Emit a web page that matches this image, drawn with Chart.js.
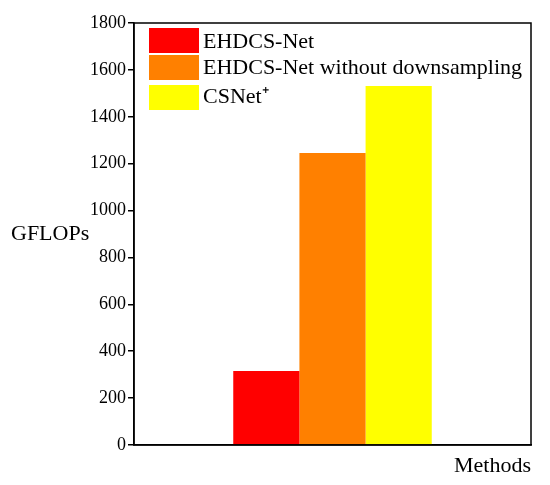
<!DOCTYPE html>
<html>
<head>
<meta charset="utf-8">
<script src="https://cdn.jsdelivr.net/npm/chart.js@4/dist/chart.umd.min.js"></script>
<style>
  html, body { margin: 0; padding: 0; background: #fff; }
  canvas { display: block; }
</style>
</head>
<body>
<canvas id="flopsChart" width="550" height="485"></canvas>
<script>
const categories = ['Methods'];
const methodNames = ['EHDCS-Net', 'EHDCS-Net without downsampling', 'CSNet\u207A'];
const gflops = [316, 1246, 1531];
const barColors = ['#ff0000', '#ff8000', '#ffff00'];
const yTicks = [0, 200, 400, 600, 800, 1000, 1200, 1400, 1600, 1800];

const FONT = '"Liberation Serif", "Times New Roman", serif';

// box around the plot + legend + axis titles
const framePlugin = {
  id: 'frame',
  afterDraw(chart){
    const { ctx, chartArea: a } = chart;
    ctx.save();
    ctx.strokeStyle = '#000';
    ctx.lineWidth = 1.5;
    ctx.strokeRect(a.left, a.top, a.right - a.left, a.bottom - a.top);

    // legend inside the plot, top-left
    ctx.font = '22px ' + FONT;
    ctx.textBaseline = 'middle';
    ctx.textAlign = 'left';
    const rows = [28, 55, 85];
    const textY = [42, 68, 97];
    chart.data.datasets.forEach((ds, i)=>{
      ctx.fillStyle = ds.backgroundColor;
      ctx.fillRect(a.left + 15, rows[i], 50, 25);
      ctx.fillStyle = '#000';
      ctx.fillText(ds.label, a.left + 69, textY[i]);
    });

    // axis titles
    ctx.fillText('GFLOPs', 11, 234);
    ctx.textAlign = 'right';
    ctx.fillText('Methods', a.right, 466);
    ctx.restore();
  }
};

new Chart(document.getElementById('flopsChart'), {
  type: 'bar',
  data: {
    labels: categories,
    datasets: methodNames.map((name, i)=>({
      label: name,
      data: [gflops[i]],
      backgroundColor: barColors[i],
      borderWidth: 0
    }))
  },
  options: {
    responsive: false,
    animation: false,
    layout: { padding: { left: 0, right: 19, top: 23, bottom: 0 } },
    categoryPercentage: 0.5,
    barPercentage: 1.0,
    plugins: { legend: { display: false }, tooltip: { enabled: false } },
    scales: {
      x: {
        grid: { display: false },
        border: { display: true, color: '#000', width: 1.5 },
        ticks: { display: false },
        afterFit(scale){ scale.height = 40; }
      },
      y: {
        min: 0,
        max: 1800,
        afterBuildTicks(scale){ scale.ticks = yTicks.map(v=>({ value: v })); },
        grid: { display: true, drawOnChartArea: false, drawTicks: true, tickLength: 6, color: '#000', lineWidth: 1.5 },
        border: { display: true, color: '#000', width: 1.5 },
        ticks: { color: '#000', padding: 2, font: { family: FONT, size: 18 }, callback: v=>String(v) },
        afterFit(scale){ scale.width = 134; }
      }
    }
  },
  plugins: [framePlugin]
});
</script>
</body>
</html>
